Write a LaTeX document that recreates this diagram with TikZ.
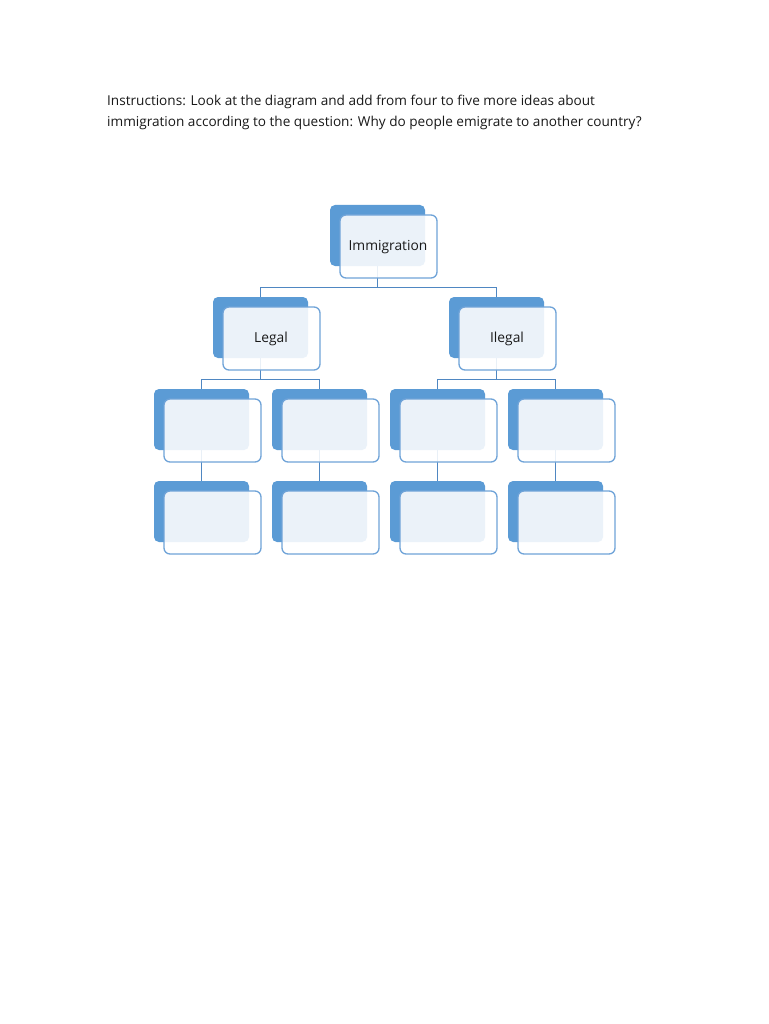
\documentclass[tikz,border=0pt]{standalone}
\usepackage{fontspec}
\setmainfont{Open Sans}
\definecolor{accent}{HTML}{5B9BD5}
\definecolor{edge}{HTML}{6FA3D8}
\definecolor{linec}{HTML}{4F87C2}
\begin{document}
\begin{tikzpicture}[x=1pt,y=-1pt,
  backbox/.style={fill=accent, draw=none, rounded corners=5pt, minimum width=95pt, minimum height=61pt, inner sep=0pt},
  frontbox/.style={fill=white, fill opacity=0.88, draw=edge, line width=1.3pt, rounded corners=6pt, minimum width=97pt, minimum height=63pt, inner sep=0pt, text opacity=1},
  conn/.style={draw=linec, line width=1.1pt},
  lbl/.style={font=\fontsize{13.8}{16}\selectfont, text=black!90}
]
\useasboundingbox (0,0) rectangle (768,1024);
\fill[white] (0,0) rectangle (768,1024);
\node[anchor=north west, align=left, inner sep=0pt, font=\fontsize{13.6}{21}\selectfont, text=black!90] (instr) at (107,95)
 {Instructions: Look at the diagram and add from four to five more ideas about\\immigration according to the question: Why do people emigrate to another country?};

% back boxes
\node[backbox] (bI) at (377.5,235.5) {};
\node[backbox] (bL) at (260.5,327.5) {};
\node[backbox] (bR) at (496.5,327.5) {};
\node[backbox] (b1) at (201.5,419.5) {};
\node[backbox] (b2) at (319.5,419.5) {};
\node[backbox] (b3) at (437.5,419.5) {};
\node[backbox] (b4) at (555.5,419.5) {};
\node[backbox] (c1) at (201.5,511.5) {};
\node[backbox] (c2) at (319.5,511.5) {};
\node[backbox] (c3) at (437.5,511.5) {};
\node[backbox] (c4) at (555.5,511.5) {};

% connectors
\draw[conn] (bI.south) -- ++(0,21) -| (bL.north);
\draw[conn] (bI.south) -- ++(0,21) -| (bR.north);
\draw[conn] (bL.south) -- ++(0,21) -| (b1.north);
\draw[conn] (bL.south) -- ++(0,21) -| (b2.north);
\draw[conn] (bR.south) -- ++(0,21) -| (b3.north);
\draw[conn] (bR.south) -- ++(0,21) -| (b4.north);
\draw[conn] (b1.south) -- (c1.north);
\draw[conn] (b2.south) -- (c2.north);
\draw[conn] (b3.south) -- (c3.north);
\draw[conn] (b4.south) -- (c4.north);

% front boxes
\node[frontbox] (fI) at (388.5,246.5) {};
\node[frontbox] (fL) at (271.5,338.5) {};
\node[frontbox] (fR) at (507.5,338.5) {};
\node[frontbox] (f1) at (212.5,430.5) {};
\node[frontbox] (f2) at (330.5,430.5) {};
\node[frontbox] (f3) at (448.5,430.5) {};
\node[frontbox] (f4) at (566.5,430.5) {};
\node[frontbox] (g1) at (212.5,522.5) {};
\node[frontbox] (g2) at (330.5,522.5) {};
\node[frontbox] (g3) at (448.5,522.5) {};
\node[frontbox] (g4) at (566.5,522.5) {};

\node[lbl] (tI) at (388,247) {Immigration};
\node[lbl] (tL) at (271,339) {Legal};
\node[lbl] (tR) at (507,339) {Ilegal};
\end{tikzpicture}
\end{document}
